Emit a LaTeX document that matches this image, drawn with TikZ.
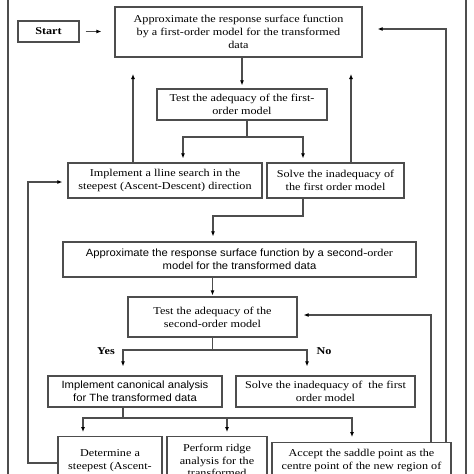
\documentclass[tikz,border=0pt]{standalone}
\usepackage{fontspec}
\setmainfont{Liberation Serif}[FakeStretch=1.16]
\newfontfamily\mysans{Liberation Sans}[FakeStretch=1.07]
\usetikzlibrary{arrows.meta}
\definecolor{lg}{HTML}{4d4d4d}
\begin{document}
\begin{tikzpicture}[x=1pt,y=-1pt,
  box/.style={draw=lg,line width=1.2pt,inner sep=0pt,align=center,
    font=\fontsize{10.5}{13}\selectfont},
  sbox/.style={box,font=\mysans\fontsize{10.5}{13}\selectfont},
  ln/.style={draw=lg,line width=1.2pt},
  arr/.style={ln,-{Latex[length=5pt,width=4pt,color=black]}},
  lbl/.style={font=\bfseries\fontsize{10.5}{13}\selectfont,inner sep=0pt}]
\useasboundingbox (0,0) rectangle (474,474);
\clip (0,0) rectangle (474,474);
% outer frame
\draw[ln] (8,-5) -- (8,480);
\draw[ln] (466,-5) -- (466,480);
% nodes
\node[box,minimum width=61,minimum height=21,font=\bfseries\fontsize{10.5}{13}\selectfont] (start) at (48.5,31.5) {Start};
\node[box,minimum width=247,minimum height=50] (b1) at (238.5,32)
  {Approximate the response surface function\\by a first-order model for the transformed\\data};
\node[box,minimum width=170,minimum height=31] (b2) at (242,104.5)
  {Test the adequacy of the first-\\order model};
\node[box,minimum width=194,minimum height=35] (b3) at (165,180.5)
  {Implement a lline search in the\\steepest (Ascent-Descent) direction};
\node[box,minimum width=137,minimum height=35] (b4) at (335.5,180.5)
  {Solve the inadequacy of\\the first order model};
\node[sbox,minimum width=353,minimum height=35] (b5) at (239.5,259.5)
  {Approximate the response surface function by a second{\rmfamily -order}\\model for the transformed data};
\node[box,minimum width=169,minimum height=40] (b6) at (212.5,317)
  {Test the adequacy of the\\second-order model};
\node[sbox,minimum width=174,minimum height=31] (b7) at (135,391.5)
  {Implement canonical analysis\\for The transformed data};
\node[box,minimum width=179,minimum height=31] (b8) at (325.5,391.5)
  {Solve the inadequacy of\ \ the first\\order model};
\node[box,anchor=north,minimum width=104,font=\fontsize{10.5}{12.5}\selectfont] (det) at (110,436)
  {\rule{0pt}{20pt}Determine a\\steepest (Ascent-\rule[-40pt]{0pt}{0pt}};
\node[box,anchor=north,minimum width=100,font=\fontsize{10.5}{12.5}\selectfont] (rid) at (217,436)
  {\rule{0pt}{15pt}Perform ridge\\analysis for the\\transformed\rule[-30pt]{0pt}{0pt}};
\node[box,anchor=north,minimum width=179,font=\fontsize{10.5}{12.5}\selectfont] (acc) at (361.5,442)
  {\rule{0pt}{14pt}Accept the saddle point as the\\centre point of the new region of\rule[-40pt]{0pt}{0pt}};
\node[lbl] (yes) at (106,351) {Yes};
\node[lbl] (no) at (324,351) {No};
% junction coordinates
\coordinate (j1) at (247,137);
\coordinate (u1) at (133,74);
\coordinate (u2) at (351,74);
\coordinate (j2) at (303,216);
\coordinate (j4) at (212.5,350);
\coordinate (j5) at (123,418);
\coordinate (r1) at (446,29);
\coordinate (r2) at (431,315);
\coordinate (l0) at (28,463);
\coordinate (l1) at (28,182);
% connectors
\draw[arr,shorten <=6pt,shorten >=13pt] (start.east) -- (start.east -| b1.west);
\draw[arr,shorten >=3pt] (b2.north |- b1.south) -- (b2.north);
\draw[ln] (j1 |- b2.south) -- (j1);
\draw[arr,shorten >=4pt] (j1) -| ([xshift=18pt]b3.north);
\draw[arr,shorten >=4pt] (j1) -| ([xshift=-32.5pt]b4.north);
\draw[arr] (u1 |- b3.north) -- (u1);
\draw[arr] (u2 |- b4.north) -- (u2);
\draw[arr,shorten >=5pt] (j2 |- b4.south) -- (j2) -| ([xshift=-26.5pt]b5.north);
\draw[arr,shorten >=1pt] (b6.north |- b5.south) -- (b6.north);
\draw[ln] (b6.south) -- (j4);
\draw[arr,shorten >=9pt] (j4) -| ([xshift=-12pt]b7.north);
\draw[arr,shorten >=9pt] (j4) -| ([xshift=-18.5pt]b8.north);
\draw[ln] (j5 |- b7.south) -- (j5);
\draw[arr,shorten >=4pt] (j5) -| ([xshift=-27pt]det.north);
\draw[arr,shorten >=4pt] (j5) -| ([xshift=10pt]rid.north);
\draw[arr,shorten >=5pt] (j5) -| ([xshift=-9.5pt]acc.north);
\draw[arr,shorten >=15pt] (r1 |- acc.north) -- (r1) -- (b1.east |- r1);
\draw[arr,shorten >=6pt] (r2 |- acc.north) -- (r2) -- (b6.east |- r2);
\draw[arr,shorten >=5pt] (l0 -| det.west) -- (l0) -- (l1) -- (l1 -| b3.west);
\end{tikzpicture}
\end{document}
